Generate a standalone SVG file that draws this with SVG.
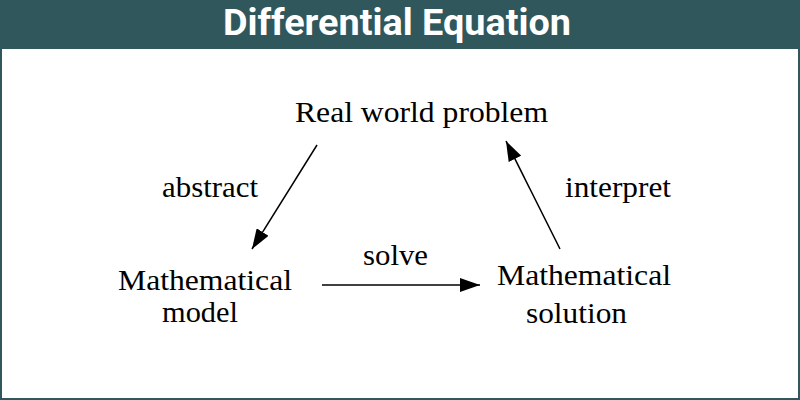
<svg xmlns="http://www.w3.org/2000/svg" width="800" height="400" viewBox="0 0 800 400">
<style>
.t{font-family:"Liberation Serif","Times New Roman",serif;font-size:29px;fill:#000;text-anchor:middle}
.c{stroke:#000;stroke-width:1.5;fill:none}
</style>
<defs>
<marker id="ah" markerWidth="20" markerHeight="14" refX="20" refY="7" orient="auto" markerUnits="userSpaceOnUse">
<path d="M0,0 L20,7 L0,14 Z" fill="#000"/>
</marker>
</defs>
<rect x="0" y="0" width="800" height="400" fill="#fff"/>
<rect x="1" y="1" width="798" height="398" fill="none" stroke="#2f575c" stroke-width="2"/>
<rect x="0" y="0" width="800" height="49" fill="#2f575c"/>
<text x="397" y="35" font-family="Roboto,'DejaVu Sans',sans-serif" font-weight="bold" font-size="37" fill="#fff" text-anchor="middle" textLength="348" lengthAdjust="spacingAndGlyphs">Differential Equation</text>
<g id="connectors">
<line class="c" x1="317" y1="145" x2="252" y2="249" marker-end="url(#ah)"/>
<line class="c" x1="322" y1="285" x2="480" y2="285" marker-end="url(#ah)"/>
<line class="c" x1="560" y1="249" x2="506" y2="141" marker-end="url(#ah)"/>
<text class="t" x="210" y="197" textLength="96" lengthAdjust="spacingAndGlyphs">abstract</text>
<text class="t" x="395.5" y="265" textLength="65" lengthAdjust="spacingAndGlyphs">solve</text>
<text class="t" x="618" y="197" textLength="106" lengthAdjust="spacingAndGlyphs">interpret</text>
</g>
<g id="real-world-problem">
<text class="t" x="421.5" y="122" textLength="253" lengthAdjust="spacingAndGlyphs">Real world problem</text>
</g>
<g id="mathematical-model">
<text class="t" x="205" y="290" textLength="174" lengthAdjust="spacingAndGlyphs">Mathematical</text>
<text class="t" x="200" y="322" textLength="76" lengthAdjust="spacingAndGlyphs">model</text>
</g>
<g id="mathematical-solution">
<text class="t" x="584" y="285" textLength="174" lengthAdjust="spacingAndGlyphs">Mathematical</text>
<text class="t" x="576.5" y="323" textLength="101" lengthAdjust="spacingAndGlyphs">solution</text>
</g>
</svg>
